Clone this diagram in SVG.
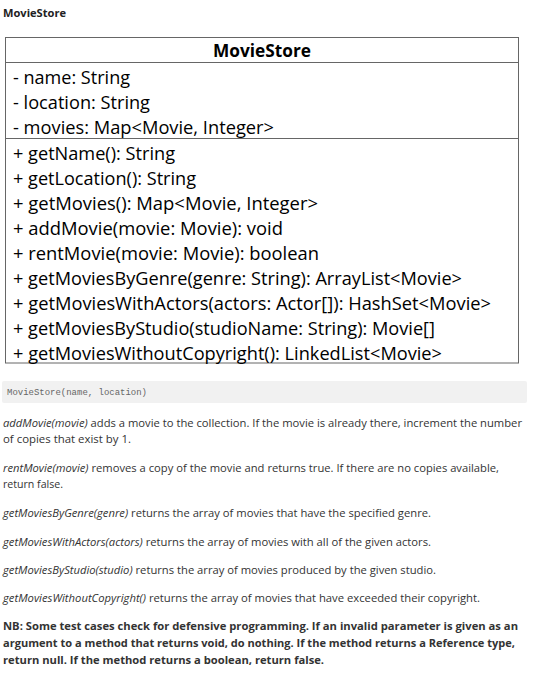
<svg xmlns="http://www.w3.org/2000/svg" width="551" height="677" viewBox="0 0 551 677">
<style>
.uml{font-family:"Open Sans","Noto Sans","Liberation Sans",sans-serif;font-size:18px;fill:#000}
.hdr{font-family:"Open Sans","Noto Sans","Liberation Sans",sans-serif;font-size:18px;font-weight:bold;fill:#000}
.p{font-family:"Open Sans","Liberation Sans",sans-serif;font-size:11.2px;fill:#333}
.i{font-style:italic}
.b{font-weight:bold}
.code{font-family:"Liberation Mono","DejaVu Sans Mono",monospace;font-size:9px;fill:#666}
</style>
<rect width="551" height="677" fill="#fff"/>
<text id="title" x="3" y="17" class="p b" style="fill:#222" textLength="63" lengthAdjust="spacingAndGlyphs">MovieStore</text>
<g id="MovieStore">
<rect x="5.5" y="37.5" width="513" height="325.5" fill="#fff" stroke="#666" stroke-width="1"/>
<line x1="5.5" y1="62.5" x2="518.5" y2="62.5" stroke="#666"/>
<line x1="5.5" y1="138.5" x2="518.5" y2="138.5" stroke="#666"/>
<text x="262" y="56.5" text-anchor="middle" class="hdr" textLength="98" lengthAdjust="spacingAndGlyphs">MovieStore</text>
<text x="13" y="83.5" class="uml" textLength="117" lengthAdjust="spacingAndGlyphs">- name: String</text>
<text x="13" y="108.5" class="uml" textLength="137" lengthAdjust="spacingAndGlyphs">- location: String</text>
<text x="13" y="133.5" class="uml" textLength="261" lengthAdjust="spacingAndGlyphs">- movies: Map&lt;Movie, Integer&gt;</text>
<text x="13" y="159.5" class="uml" textLength="162" lengthAdjust="spacingAndGlyphs">+ getName(): String</text>
<text x="13" y="184.5" class="uml" textLength="183" lengthAdjust="spacingAndGlyphs">+ getLocation(): String</text>
<text x="13" y="209.5" class="uml" textLength="305" lengthAdjust="spacingAndGlyphs">+ getMovies(): Map&lt;Movie, Integer&gt;</text>
<text x="13" y="234.5" class="uml" textLength="270" lengthAdjust="spacingAndGlyphs">+ addMovie(movie: Movie): void</text>
<text x="13" y="259.5" class="uml" textLength="306" lengthAdjust="spacingAndGlyphs">+ rentMovie(movie: Movie): boolean</text>
<text x="13" y="284.5" class="uml" textLength="449" lengthAdjust="spacingAndGlyphs">+ getMoviesByGenre(genre: String): ArrayList&lt;Movie&gt;</text>
<text x="13" y="309.5" class="uml" textLength="478" lengthAdjust="spacingAndGlyphs">+ getMoviesWithActors(actors: Actor[]): HashSet&lt;Movie&gt;</text>
<text x="13" y="334.5" class="uml" textLength="422" lengthAdjust="spacingAndGlyphs">+ getMoviesByStudio(studioName: String): Movie[]</text>
<text x="13" y="359.5" class="uml" textLength="429" lengthAdjust="spacingAndGlyphs">+ getMoviesWithoutCopyright(): LinkedList&lt;Movie&gt;</text>
</g>
<g id="constructor">
<rect x="2" y="381" width="525" height="22" rx="2" fill="#f1f1f1"/>
<text x="7" y="395" class="code" textLength="140" lengthAdjust="spacingAndGlyphs">MovieStore(name, location)</text>
</g>
<g id="description">
<text x="3" y="427" class="p" textLength="519" lengthAdjust="spacingAndGlyphs"><tspan class="i">addMovie(movie)</tspan> adds a movie to the collection. If the movie is already there, increment the number</text>
<text x="3" y="443" class="p" textLength="128" lengthAdjust="spacingAndGlyphs">of copies that exist by 1.</text>
<text x="3" y="472" class="p" textLength="496" lengthAdjust="spacingAndGlyphs"><tspan class="i">rentMovie(movie)</tspan> removes a copy of the movie and returns true. If there are no copies available,</text>
<text x="3" y="488" class="p" textLength="60" lengthAdjust="spacingAndGlyphs">return false.</text>
<text x="3" y="517" class="p" textLength="428" lengthAdjust="spacingAndGlyphs"><tspan class="i">getMoviesByGenre(genre)</tspan> returns the array of movies that have the specified genre.</text>
<text x="3" y="546" class="p" textLength="428" lengthAdjust="spacingAndGlyphs"><tspan class="i">getMoviesWithActors(actors)</tspan> returns the array of movies with all of the given actors.</text>
<text x="3" y="574" class="p" textLength="433" lengthAdjust="spacingAndGlyphs"><tspan class="i">getMoviesByStudio(studio)</tspan> returns the array of movies produced by the given studio.</text>
<text x="3" y="602" class="p" textLength="477" lengthAdjust="spacingAndGlyphs"><tspan class="i">getMoviesWithoutCopyright()</tspan> returns the array of movies that have exceeded their copyright.</text>
<text x="3" y="630" class="p b" textLength="515" lengthAdjust="spacingAndGlyphs">NB: Some test cases check for defensive programming. If an invalid parameter is given as an</text>
<text x="3" y="647" class="p b" textLength="512" lengthAdjust="spacingAndGlyphs">argument to a method that returns void, do nothing. If the method returns a Reference type,</text>
<text x="3" y="664" class="p b" textLength="321" lengthAdjust="spacingAndGlyphs">return null. If the method returns a boolean, return false.</text>
</g>
</svg>
